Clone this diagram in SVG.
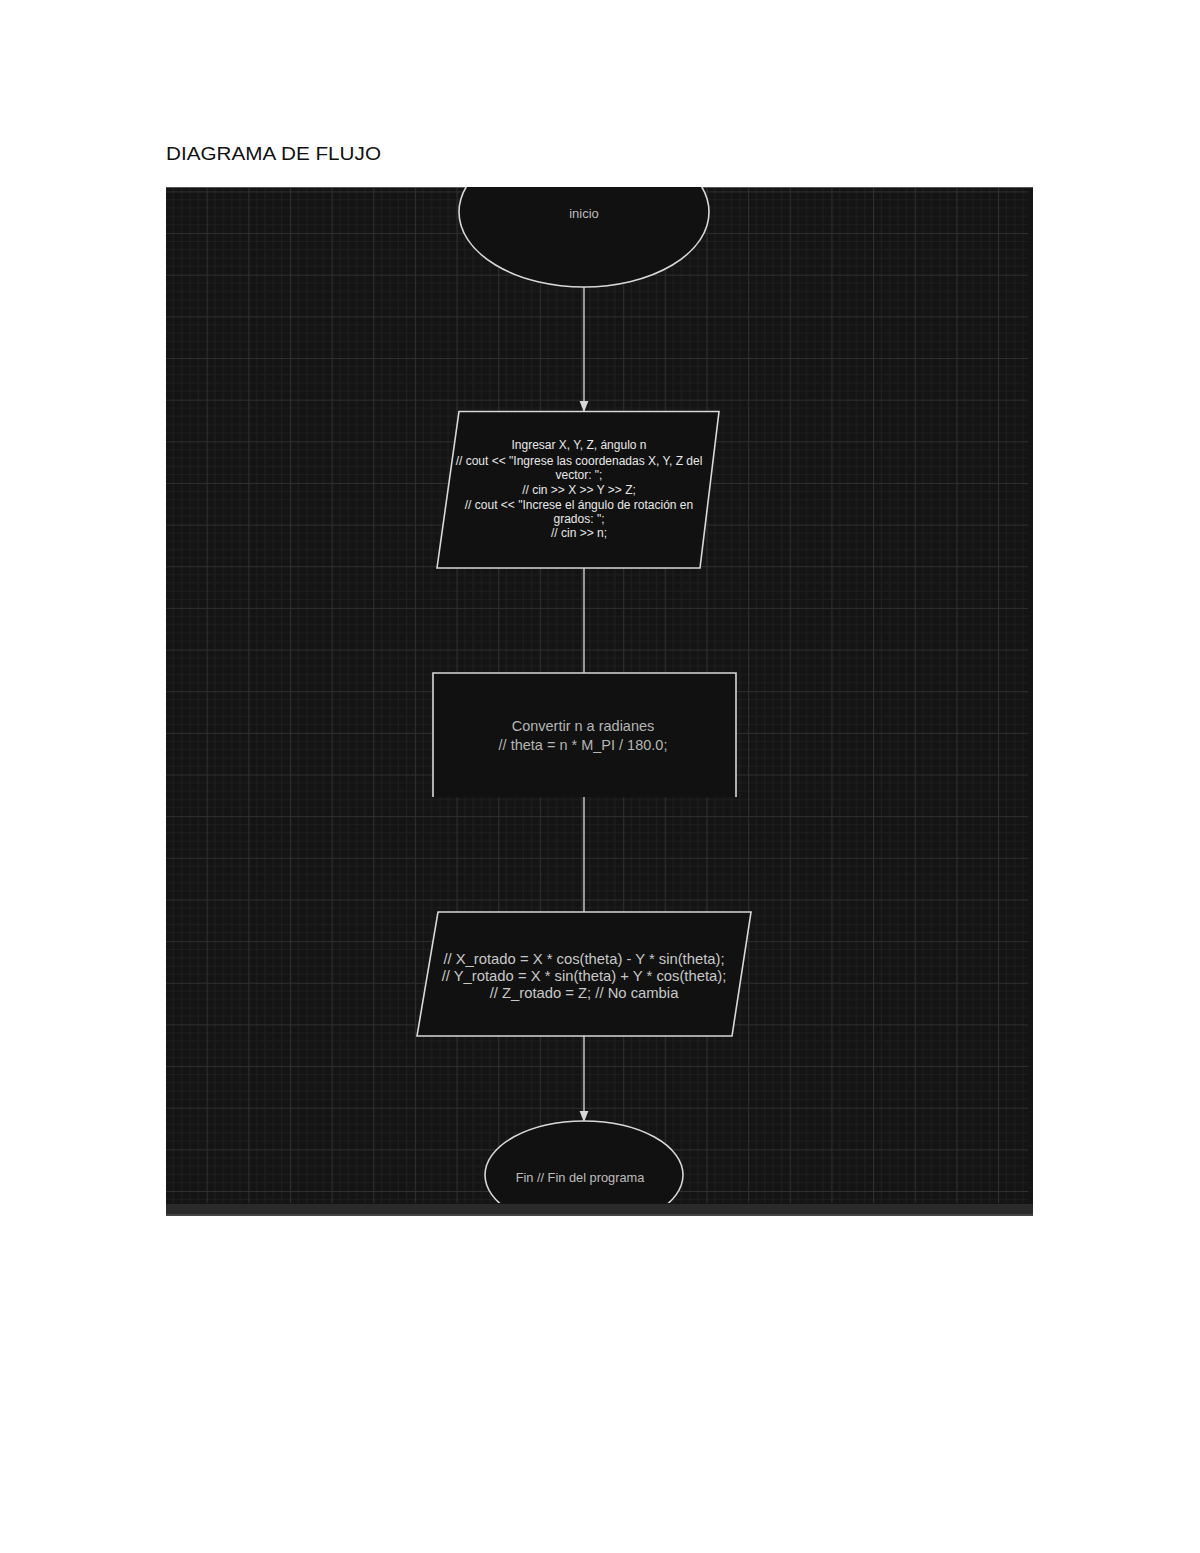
<svg xmlns="http://www.w3.org/2000/svg" width="1200" height="1553" viewBox="0 0 1200 1553">
<style>
.shape{fill:#111111;stroke:#d8d8d8;stroke-width:1.6}
.conn{stroke:#d0d0d0;stroke-width:1.4;fill:none}
.t{font-family:"Liberation Sans",Arial,sans-serif;text-anchor:middle}
</style>
<defs>
<pattern id="grid" x="165" y="191.4" width="41.65" height="41.65" patternUnits="userSpaceOnUse">
<path d="M8.33 0V41.65M16.66 0V41.65M25 0V41.65M33.32 0V41.65M0 8.33H41.65M0 16.66H41.65M0 25H41.65M0 33.32H41.65" stroke="#1e1e1e" stroke-width="1"/>
<path d="M0.5 0V41.65M0 0.5H41.65" stroke="#2f2f2f" stroke-width="1.2"/>
</pattern>
<marker id="arr" viewBox="0 0 10 10" refX="9" refY="5" markerWidth="8" markerHeight="8" orient="auto">
<path d="M0 1L10 5L0 9Z" fill="#d8d8d8"/>
</marker>
<clipPath id="panelclip"><rect x="166" y="187" width="867" height="1016"/></clipPath>
</defs>
<rect width="1200" height="1553" fill="#ffffff"/>
<text x="166" y="160" font-family="'Liberation Sans',Arial,sans-serif" font-size="18" textLength="215" lengthAdjust="spacingAndGlyphs" fill="#111">DIAGRAMA DE FLUJO</text>
<g id="panel">
<rect x="166" y="187" width="867" height="1029" fill="#141414"/>
<rect x="166" y="187" width="862" height="1016" fill="url(#grid)"/>
<rect x="166" y="1204" width="867" height="10" fill="#2a2a2a"/>
<rect x="166" y="1214" width="867" height="2" fill="#444"/>
<rect x="166" y="187" width="867" height="1" fill="#555"/>
</g>
<g clip-path="url(#panelclip)">
<g id="connectors">
<line class="conn" x1="584" y1="287" x2="584" y2="411" marker-end="url(#arr)"/>
<line class="conn" x1="584" y1="568" x2="584" y2="673"/>
<line class="conn" x1="584" y1="797" x2="584" y2="912"/>
<line class="conn" x1="584" y1="1036" x2="584" y2="1121" marker-end="url(#arr)"/>
</g>
<g id="inicio">
<ellipse class="shape" cx="584" cy="212" rx="125" ry="75"/>
<text class="t" x="584" y="218" font-size="13" fill="#bdbdbd">inicio</text>
</g>
<g id="entrada">
<polygon class="shape" points="459,411.5 719,411.5 700,568 437,568"/>
<g class="t" font-size="12" fill="#e8e8e8">
<text x="579" y="449">Ingresar X, Y, Z, ángulo n</text>
<text x="579" y="465">// cout &lt;&lt; "Ingrese las coordenadas X, Y, Z del</text>
<text x="579" y="479">vector: ";</text>
<text x="579" y="494">// cin &gt;&gt; X &gt;&gt; Y &gt;&gt; Z;</text>
<text x="579" y="509">// cout &lt;&lt; "Increse el ángulo de rotación en</text>
<text x="579" y="523">grados: ";</text>
<text x="579" y="537">// cin &gt;&gt; n;</text>
</g>
</g>
<g id="convertir">
<path class="shape" d="M433 797V673H736V797"/>
<g class="t" font-size="14.5" fill="#b5b5b5">
<text x="583" y="731">Convertir n a radianes</text>
<text x="583" y="750">// theta = n * M_PI / 180.0;</text>
</g>
</g>
<g id="rotacion">
<polygon class="shape" points="438,912 751,912 732,1036 417,1036"/>
<g class="t" font-size="14.8" fill="#c8c8c8">
<text x="584" y="964">// X_rotado = X * cos(theta) - Y * sin(theta);</text>
<text x="584" y="981">// Y_rotado = X * sin(theta) + Y * cos(theta);</text>
<text x="584" y="998">// Z_rotado = Z; // No cambia</text>
</g>
</g>
<g id="fin">
<ellipse class="shape" cx="584" cy="1175" rx="99" ry="54"/>
<text class="t" x="580" y="1182" font-size="12.8" fill="#bdbdbd">Fin  // Fin del programa</text>
</g>
</g>
<rect x="166" y="1204" width="867" height="10" fill="#2a2a2a"/>
</svg>
